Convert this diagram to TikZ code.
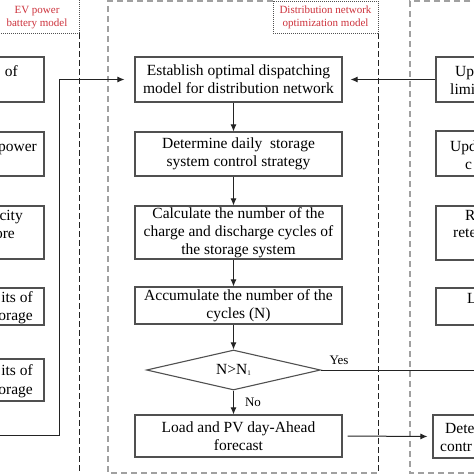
\documentclass[tikz,border=0pt]{standalone}
\usepackage{fontspec}
\setmainfont{Liberation Serif}
\usetikzlibrary{arrows.meta,shapes.geometric}
\definecolor{boxgray}{RGB}{80,80,80}
\definecolor{linegray}{RGB}{35,35,35}
\definecolor{titlered}{RGB}{205,50,60}
\definecolor{dashgray}{RGB}{160,160,160}
\begin{document}
\begin{tikzpicture}[x=1pt,y=-1pt,
  box/.style={draw=boxgray, line width=1.1pt, inner sep=0pt, align=center,
    font=\fontsize{15.5}{18}\selectfont},
  frag/.style={inner sep=0pt, font=\fontsize{15.5}{18}\selectfont},
  dia/.style={draw=boxgray, line width=1.1pt, shape=diamond, aspect=4.35,
    inner sep=0pt, minimum width=174pt, minimum height=40pt,
    font=\fontsize{15.5}{18}\selectfont},
  lab/.style={inner sep=0pt, font=\fontsize{13}{15}\selectfont},
  arr/.style={draw=linegray, line width=1pt, -{Latex[length=7pt,width=6pt]}},
  conn/.style={draw=linegray, line width=1pt},
  bdash/.style={draw=linegray, line width=1pt, dash pattern=on 6pt off 3pt},
  gdash/.style={draw=dashgray, line width=1.1pt, dash pattern=on 6pt off 4pt},
  tbox/.style={draw=boxgray, line width=0.9pt, dash pattern=on 1pt off 1pt},
  ttext/.style={text=titlered, align=center, inner sep=0pt,
    font=\fontsize{11}{13}\selectfont}]
\useasboundingbox (0,0) rectangle (474,474);
\fill[white] (0,0) rectangle (474,474);
\clip (0,0) rectangle (474,474);

% panel frames
\draw[gdash] (273,1) -- (108,1) -- (108,473) -- (378,473);
\draw[gdash] (490,1) -- (410,1) -- (410,473) -- (490,473);
\draw[bdash] (79,33) -- (79,476);
\draw[bdash] (378,33) -- (378,476);

% title boxes
\draw[tbox] (-5,-1) rectangle (79,33);
\draw[tbox] (273,1) rectangle (378,33);
\node[ttext] (t1) at (37,17.5) {EV power\\battery model};
\node[ttext] (t2) at (325.5,17.5) {Distribution network\\optimization model};

% left column boxes (cut by the edge)
\node[box, minimum width=49pt, minimum height=45pt] (l1) at (19.5,79.5) {};
\node[box, minimum width=49pt, minimum height=44pt] (l2) at (19.5,154) {};
\node[box, minimum width=49pt, minimum height=53pt] (l3) at (19.5,232.5) {};
\node[box, minimum width=49pt, minimum height=37pt] (l4) at (19.5,306.5) {};
\node[box, minimum width=49pt, minimum height=42pt] (l5) at (19.5,380) {};
\node[frag, anchor=base east] (l1a) at (18,76) {of};
\node[frag, anchor=base east] (l2a) at (37,151) {power};
\node[frag, anchor=base east] (l3a) at (23,220) {city};
\node[frag, anchor=base east] (l3b) at (15,238) {ore};
\node[frag, anchor=base east] (l4a) at (33,302) {its of};
\node[frag, anchor=base east] (l4b) at (33,320) {orage};
\node[frag, anchor=base east] (l5a) at (33,375) {its of};
\node[frag, anchor=base east] (l5b) at (33,394) {orage};

% right column boxes (cut by the edge)
\node[box, minimum width=44pt, minimum height=45pt] (r1) at (458,79.5) {};
\node[box, minimum width=44pt, minimum height=45pt] (r2) at (458,153.5) {};
\node[box, minimum width=44pt, minimum height=54pt] (r3) at (458,233) {};
\node[box, minimum width=44pt, minimum height=37pt] (r4) at (458,306.5) {};
\node[box, minimum width=47pt, minimum height=43pt] (r5) at (456.5,436.5) {};
\node[frag, anchor=base west] (r1a) at (455,76) {Up};
\node[frag, anchor=base west] (r1b) at (450,94) {limi};
\node[frag, anchor=base west] (r2a) at (450,151) {Upd};
\node[frag, anchor=base west] (r2b) at (465,169) {c};
\node[frag, anchor=base west] (r3a) at (465,220) {R};
\node[frag, anchor=base west] (r3b) at (453,237) {rete};
\node[frag, anchor=base west] (r4a) at (467,303) {L};
\node[frag, anchor=base west] (r5a) at (445,433) {Dete};
\node[frag, anchor=base west] (r5b) at (440,451) {contr};

% middle column
\node[box, minimum width=207pt, minimum height=45pt] (est) at (238.5,79.5)
  {Establish optimal dispatching\\model for distribution network};
\node[box, minimum width=207pt, minimum height=44pt] (det) at (238.5,154)
  {Determine daily\ \ storage\\system control strategy};
\node[box, minimum width=207pt, minimum height=53pt] (calc) at (238.5,232.5)
  {Calculate the number of the\\charge and discharge cycles of\\the storage system};
\node[box, minimum width=207pt, minimum height=37pt] (acc) at (238.5,305.5)
  {Accumulate the number of the\\cycles (N)};
\node[dia] (dec) at (233.5,370) {N>N\raisebox{-1.5pt}{\fontsize{7}{8}\selectfont 1}};
\node[box, minimum width=207pt, minimum height=42pt] (load) at (238.5,436)
  {Load and PV day-Ahead\\forecast};
\node[lab] (yes) at (339,360) {Yes};
\node[lab] (no) at (253,402) {No};

% connectors
\draw[arr] (est.south -| dec.center) -- (det.north -| dec.center);
\draw[arr] (det.south -| dec.center) -- (calc.north -| dec.center);
\draw[arr] (calc.south -| dec.center) -- (acc.north -| dec.center);
\draw[arr] (acc.south -| dec.center) -- (dec.north);
\draw[arr] (dec.south) -- (load.north -| dec.center);
\coordinate (yesend) at (478,370);
\draw[conn] (dec.east) -- (yesend);
\coordinate (lstart) at (-3,435);
\coordinate (lcorner) at (59,435);
\draw[arr, shorten >=10pt] (lstart) -- (lcorner) |- (est.west);
\draw[arr, shorten >=8pt] (r1.west) -- (est.east);
\draw[arr, shorten <=5pt, shorten >=5pt] (load.east) -- (r5.west);
\end{tikzpicture}
\end{document}
